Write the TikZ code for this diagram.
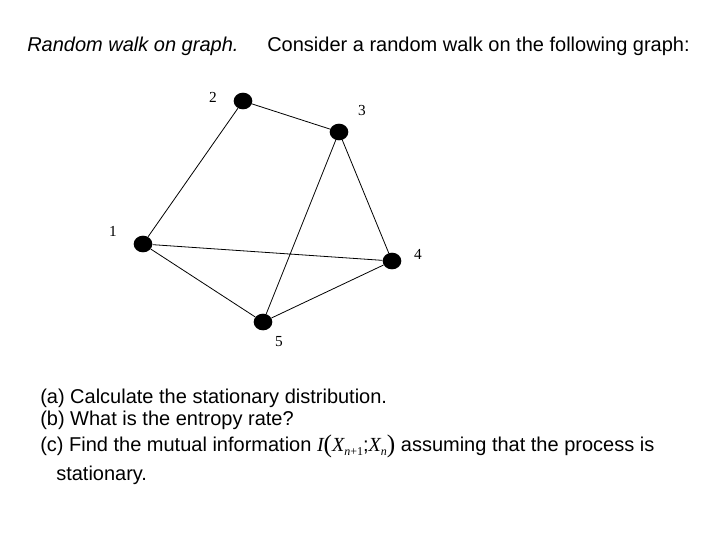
\documentclass[tikz,border=0pt]{standalone}
\usepackage{fontspec}
\usetikzlibrary{shapes.geometric}
\setmainfont{Liberation Sans}
\newfontfamily\serif{Liberation Serif}
\begin{document}
\begin{tikzpicture}[x=0.75pt,y=-0.75pt,
  vert/.style={ellipse,fill=black,minimum width=14pt,minimum height=12.5pt,inner sep=0pt},
  lab/.style={font=\serif\fontsize{11.5pt}{13pt}\selectfont,inner sep=0pt},
  txt/.style={anchor=base west,inner sep=0pt,font=\fontsize{15pt}{17pt}\selectfont},
  edge/.style={draw,line width=0.6pt}]
\useasboundingbox (0,0) rectangle (707,536);
\node[vert] (v1) at (143,244) {};
\node[vert] (v2) at (243,101) {};
\node[vert] (v3) at (339,132) {};
\node[vert] (v4) at (392,261) {};
\node[vert] (v5) at (263,322) {};
\node[lab] (l1) at (113,231) {1};
\node[lab] (l2) at (213,97) {2};
\node[lab] (l3) at (362,110) {3};
\node[lab] (l4) at (418,254) {4};
\node[lab] (l5) at (279,342) {5};
\draw[edge] (v1)--(v2) (v2)--(v3) (v3)--(v4) (v3)--(v5) (v1)--(v4) (v1)--(v5) (v5)--(v4);
\node[txt] (t1) at (27,51) {\itshape Random walk on graph.};
\node[txt] (t2) at (267,51) {Consider a random walk on the following graph:};
\node[txt] (a) at (40,403) {(a) Calculate the stationary distribution.};
\node[txt] (b) at (40,425) {(b) What is the entropy rate?};
\node[txt] (c) at (40,451) {(c) Find the mutual information {\serif\itshape I}{\serif\raisebox{-1pt}{\fontsize{19pt}{20pt}\selectfont(}}{\serif\itshape X}{\serif\fontsize{9pt}{10pt}\selectfont\raisebox{-3pt}{\itshape n}\raisebox{-3pt}{+1}};{\serif\itshape X}{\serif\fontsize{9pt}{10pt}\selectfont\raisebox{-3pt}{\itshape n}}{\serif\raisebox{-1pt}{\fontsize{19pt}{20pt}\selectfont)}} assuming that the process is};
\node[txt] (d) at (56,480) {stationary.};
\end{tikzpicture}
\end{document}
